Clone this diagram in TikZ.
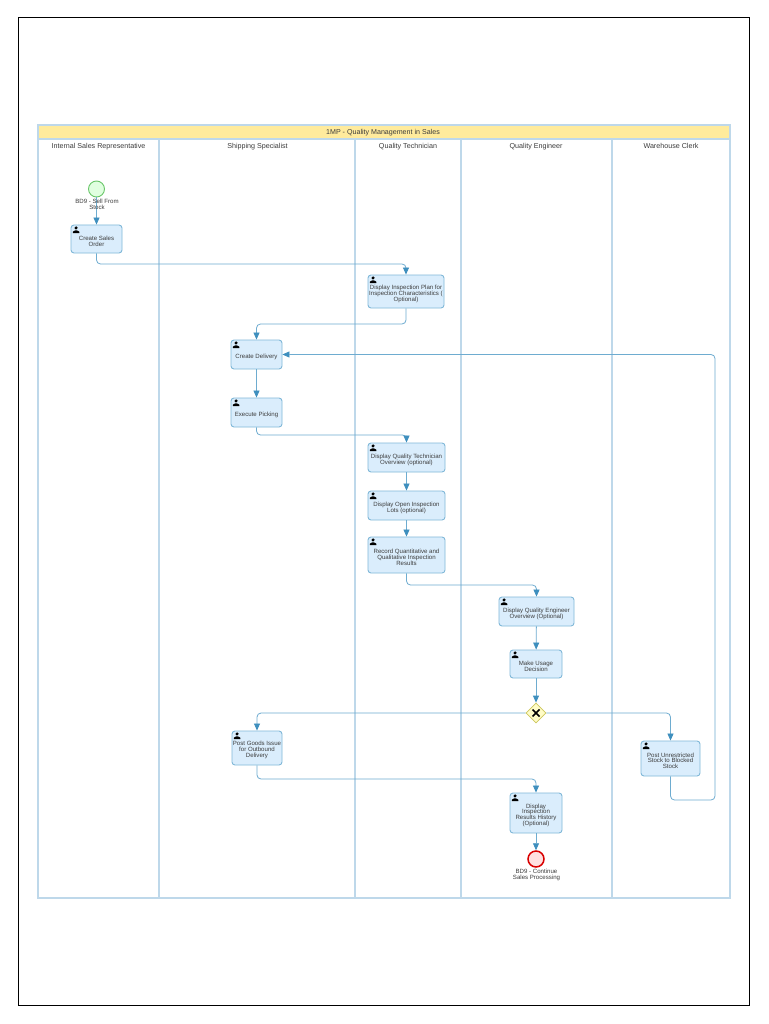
\documentclass[tikz,border=0pt]{standalone}
\usepackage{fontspec}
\setmainfont{Liberation Sans}
\usepackage{xcolor}
\usetikzlibrary{arrows.meta, shapes.geometric, positioning}
\definecolor{laneblue}{RGB}{190,216,234}
\definecolor{headyellow}{RGB}{255,235,156}
\definecolor{taskfill}{RGB}{218,237,252}
\definecolor{taskline}{RGB}{128,184,216}
\definecolor{flowblue}{RGB}{110,172,208}
\definecolor{tipblue}{RGB}{62,143,190}
\definecolor{textgrey}{RGB}{60,60,60}
\tikzset{
	lanebox/.style={draw=laneblue, line width=1.4pt},
	lanehead/.style={font=\fontsize{7.15}{8}\selectfont, text=textgrey, inner sep=0pt, anchor=base},
	taskbox/.style={draw=taskline, fill=taskfill, rounded corners=3pt, line width=0.9pt, minimum width=#1, inner sep=0pt},
	tasktext/.style={font=\fontsize{6.1}{5.8}\selectfont, text=textgrey, align=center, inner sep=0pt},
	eventlabel/.style={font=\fontsize{6.1}{5.8}\selectfont, text=textgrey, align=center, inner sep=0pt},
	flow/.style={draw=flowblue, line width=0.8pt, rounded corners=4pt, -{Triangle[length=7pt, width=6pt, fill=tipblue, color=tipblue]}},
	usericon/.pic={
		\fill[black] (0,-2.1) circle (1.7);
		\fill[black] (-3.2,3) -- (-3.2,1.6) -- (-1,0.4) -- (1,0.4) -- (3.2,1.6) -- (3.2,3) -- cycle;
	}
}
% box from its corners, text set at the centre
\newcommand{\taskat}[6]{
	\node[taskbox=#3pt-#1pt, minimum height=#4pt-#2pt] (#5) at ({(#1+#3)/2},{(#2+#4)/2}) {};
	\node[tasktext] (#5text) at ([yshift=-2.2pt]#5.center) {#6};
	\pic at ([shift={(5.5,5.5)}]#5.north west) {usericon};
}
\begin{document}
\begin{tikzpicture}[x=1pt, y=-1pt]
	\useasboundingbox (0,0) rectangle (768,1024);
	\fill[white] (0,0) rectangle (768,1024);
	\draw[black, line width=0.9pt] (18.5,17.5) rectangle (749.5,1005.5);
	% pool and lanes
	\draw[lanebox] (38,125) rectangle (730,898);
	\fill[headyellow] (38.6,125.6) rectangle (729.4,139);
	\draw[lanebox] (38,125) rectangle (730,139);
	\foreach \lanex in {159,355,461,612}
		\draw[lanebox] (\lanex,139) -- (\lanex,898);
	\node[lanehead, font=\fontsize{7.1}{8}\selectfont] (pooltitle) at (383,134.5) {1MP - Quality Management in Sales};
	\node[lanehead] (lanesales) at (98.5,148.5) {Internal Sales Representative};
	\node[lanehead] (laneship) at (257.5,148.5) {Shipping Specialist};
	\node[lanehead] (lanetech) at (408,148.5) {Quality Technician};
	\node[lanehead] (laneeng) at (536,148.5) {Quality Engineer};
	\node[lanehead] (laneclerk) at (671,148.5) {Warehouse Clerk};
	% events and gateway
	\node[circle, draw=green!45!gray!80!white, fill=green!12!white, line width=0.9pt, minimum size=16pt, inner sep=0pt] (start) at (96.5,189) {};
	\node[circle, draw=red!85!black, fill=red!12!white, line width=1.5pt, minimum size=16pt, inner sep=0pt] (stop) at (536,859) {};
	\node[diamond, draw=yellow!55!gray, fill=yellow!22!white, line width=0.8pt, minimum size=20pt, inner sep=0pt] (gate) at (536,713) {};
	\draw[black, line width=1.6pt] (532.5,709.5) -- (539.5,716.5) (532.5,716.5) -- (539.5,709.5);
	% tasks
	\taskat{71}{225}{122}{253}{order}{Create Sales\\Order}
	\taskat{368}{275}{444}{308}{plan}{Display Inspection Plan for\\Inspection Characteristics (\\Optional)}
	\taskat{231}{340}{282}{369}{delivery}{Create Delivery}
	\taskat{231}{398}{282}{427}{picking}{Execute Picking}
	\taskat{368}{443}{445}{472}{techview}{Display Quality Technician\\Overview (optional)}
	\taskat{368}{491}{445}{520}{lots}{Display Open Inspection\\Lots (optional)}
	\taskat{368}{537}{445}{573}{record}{Record Quantitative and\\Qualitative Inspection\\Results}
	\taskat{499}{597}{574}{626}{engview}{Display Quality Engineer\\Overview (Optional)}
	\taskat{510}{650}{562}{678}{usage}{Make Usage\\Decision}
	\taskat{232}{731}{282}{765}{goods}{Post Goods Issue\\for Outbound\\Delivery}
	\taskat{641}{741}{700}{776}{stock}{Post Unrestricted\\Stock to Blocked\\Stock}
	\taskat{510}{793}{562}{833}{history}{Display\\Inspection\\Results History\\(Optional)}
	% free bends of the long flows
	\coordinate (bendorder) at (250,264);
	\coordinate (bendplan) at (330,324);
	\coordinate (bendpick) at (330,435);
	\coordinate (bendrecord) at (470,585);
	\coordinate (bendgoods) at (400,779);
	\coordinate (backlow) at (715,800);
	\coordinate (backhigh) at (715,354.5);
	% flows
	\draw[flow] (start) -- (order);
	\draw[flow] (order) |- (bendorder) -| (plan);
	\draw[flow] (plan) |- (bendplan) -| (delivery);
	\draw[flow] (delivery) -- (picking);
	\draw[flow] (picking) |- (bendpick) -| (techview);
	\draw[flow] (techview) -- (lots);
	\draw[flow] (lots) -- (record);
	\draw[flow] (record) |- (bendrecord) -| (engview);
	\draw[flow] (engview) -- (usage);
	\draw[flow] (usage) -- (gate);
	\draw[flow] (gate) -| (goods);
	\draw[flow] (gate) -| (stock);
	\draw[flow] (goods) |- (bendgoods) -| (history);
	\draw[flow] (history) -- (stop);
	\draw[flow] (stock) |- (backlow) -- (backhigh) -- (delivery.east |- backhigh);
	% event labels
	\node[eventlabel] (startlabel) at (97,204.5) {BD9 - Sell From\\Stock};
	\node[eventlabel] (stoplabel) at (536.5,875) {BD9 - Continue\\Sales Processing};
\end{tikzpicture}
\end{document}
